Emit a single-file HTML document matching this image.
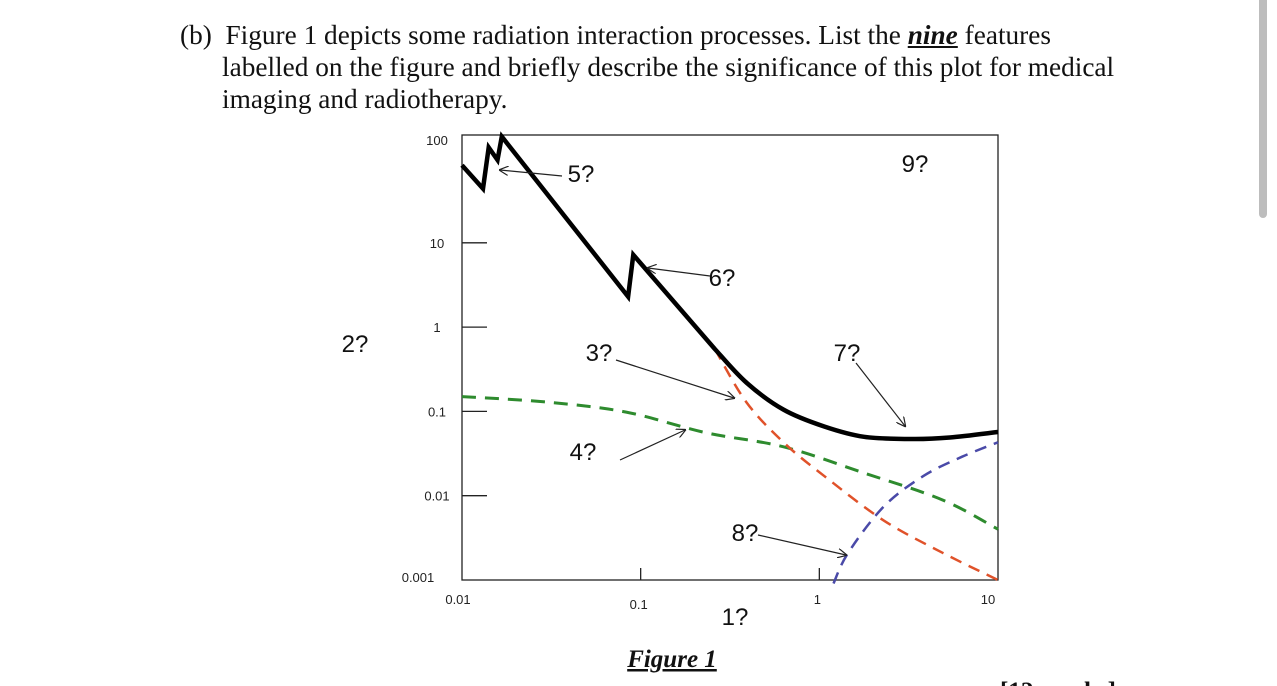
<!DOCTYPE html>
<html><head><meta charset="utf-8"><style>
body{margin:0;width:1277px;height:686px;background:#fff;overflow:hidden;position:relative;font-family:"Liberation Serif",serif}
.q{position:absolute;font-size:27.3px;color:#111;white-space:nowrap}
.sb{position:absolute;left:1259px;top:-10px;width:8px;height:228px;background:#bdbdbd;border-radius:4px}
</style></head><body>
<div class="q" style="left:180px;top:20px">(b)&nbsp; Figure 1 depicts some radiation interaction processes. List the <b><i><u>nine</u></i></b> features</div>
<div class="q" style="left:222px;top:52px">labelled on the figure and briefly describe the significance of this plot for medical</div>
<div class="q" style="left:222px;top:84px">imaging and radiotherapy.</div>
<div class="sb"></div>
<svg id="chart" width="1277" height="686" style="position:absolute;left:0;top:0">
<defs><marker id="ah" markerWidth="8" markerHeight="8" refX="7" refY="4" orient="auto"><path d="M0,0 L8,4 L0,8" fill="none" stroke="#222" stroke-width="1"/></marker></defs>
</svg>
<script>
const xTicks=[0.01,0.1,1,10];
const xTickLabels=["0.01","0.1","1","10"];
const yTicks=[0.001,0.01,0.1,1,10,100];
const yTickLabels=["0.001","0.01","0.1","1","10","100"];
const totalE=[0.01,0.0131,0.0141,0.0158,0.0167,0.085,0.091,0.26,0.39,0.63,1.07,1.78,3.24,5.37,10];
const totalV=[83,44,135,96,182,2.3,7.2,0.55,0.22,0.105,0.066,0.05,0.047,0.049,0.057];
const comptonE=[0.01,0.03,0.083,0.23,0.63,1.78,4.9,10];
const comptonV=[0.15,0.129,0.098,0.056,0.038,0.0186,0.0089,0.004];
const photoE=[0.26,0.39,0.63,1.07,2.29,4.9,10];
const photoV=[0.55,0.129,0.043,0.017,0.0051,0.0021,0.001];
const pairE=[1.2,1.45,2.29,3.8,6.3,10];
const pairV=[0.00091,0.0021,0.0074,0.017,0.029,0.043];
const NS="http://www.w3.org/2000/svg";
const svg=document.getElementById('chart');
const X0=462,X1=998,Y0=580,DEC_Y=84.3;
const sx=e=>X0+(Math.log10(e)+2)/3*(X1-X0);
const sy=v=>Y0-(Math.log10(v)+3)*DEC_Y;
function mk(t,a){const e=document.createElementNS(NS,t);for(const k in a)e.setAttribute(k,a[k]);svg.appendChild(e);return e;}
const frame=mk('rect',{x:X0,y:135,width:X1-X0,height:Y0-135,fill:'none',stroke:'#222','stroke-width':1.3});


yTicks.forEach((v,i)=>{
  if(i>0&&i<5){const t=mk('line',{x1:X0,x2:X0+25,y1:sy(v),y2:sy(v),stroke:'#222','stroke-width':1.3});
  
  }
  const l=mk('text',{x:i==0?418:437,y:(i==5?140:sy(v))+(i==0?2:5),'font-size':13,'text-anchor':'middle','font-family':'Liberation Sans, sans-serif',fill:'#222'});
  l.textContent=yTickLabels[i];
  
  
});
xTicks.forEach((v,i)=>{
  if(i==1||i==2){const t=mk('line',{x1:sx(v),x2:sx(v),y1:Y0,y2:Y0-12,stroke:'#222','stroke-width':1.3});
  
  }
  const l=mk('text',{x:sx(v)-(i==0?4:i==3?10:2),y:i==1?609:604,'font-size':13,'text-anchor':'middle','font-family':'Liberation Sans, sans-serif',fill:'#222'});
  l.textContent=xTickLabels[i];
  
  
});
function series(E,V,col,w,dash,name,smoothFrom){
  const P=E.map((e,i)=>[sx(e),sy(V[i])]);
  let d='M'+P[0][0].toFixed(1)+','+P[0][1].toFixed(1);
  for(let i=1;i<P.length;i++){
    if(i-1<smoothFrom){d+=' L'+P[i][0].toFixed(1)+','+P[i][1].toFixed(1);continue;}
    const p0=P[Math.max(i-2,smoothFrom)],p1=P[i-1],p2=P[i],p3=P[Math.min(i+1,P.length-1)];
    const c1=[p1[0]+(p2[0]-p0[0])/6,p1[1]+(p2[1]-p0[1])/6];
    const c2=[p2[0]-(p3[0]-p1[0])/6,p2[1]-(p3[1]-p1[1])/6];
    d+=' C'+c1[0].toFixed(1)+','+c1[1].toFixed(1)+' '+c2[0].toFixed(1)+','+c2[1].toFixed(1)+' '+p2[0].toFixed(1)+','+p2[1].toFixed(1);
  }
  const p=mk('path',{d:d,fill:'none',stroke:col,'stroke-width':w,'stroke-dasharray':dash,'stroke-linejoin':'miter'});
  
  
}
series(comptonE,comptonV,'#2e8b2e',3,'14,9','compton-curve',0);
series(photoE,photoV,'#e0522a',2.5,'12,8','photoelectric-curve',0);
series(pairE,pairV,'#4a4aa8',2.5,'12,8','pair-production-curve',0);
series(totalE,totalV,'#000',4.5,'none','total-attenuation-curve',7);
const labels=[["5?",581,182,"label-5"],["6?",722,286,"label-6"],["3?",599,361,"label-3"],["7?",847,361,"label-7"],["4?",583,460,"label-4"],["8?",745,541,"label-8"],["9?",915,172,"label-9"],["2?",355,352,"label-2"],["1?",735,625,"label-1"]];
labels.forEach(a=>{const t=mk('text',{x:a[1],y:a[2],'font-size':24,'text-anchor':'middle','font-family':'Liberation Sans, sans-serif',fill:'#111'});t.textContent=a[0];

});
const arrows=[[562,176,500,170],[710,276,648,268],[616,360,734,398],[856,363,905,426],[620,460,685,430],[758,535,846,555]];
arrows.forEach(a=>{const l=mk('line',{x1:a[0],y1:a[1],x2:a[2],y2:a[3],stroke:'#222','stroke-width':1.2,'marker-end':'url(#ah)'});

});
const fig=mk('text',{x:672,y:667,'font-size':25,'text-anchor':'middle','font-weight':'bold','font-style':'italic','text-decoration':'underline',fill:'#111'});
fig.textContent='Figure 1';


const mk2=mk('text',{x:1000,y:699,'font-size':25,'font-weight':'bold',fill:'#111'});
mk2.textContent='[12 marks]';


</script>
</body></html>
